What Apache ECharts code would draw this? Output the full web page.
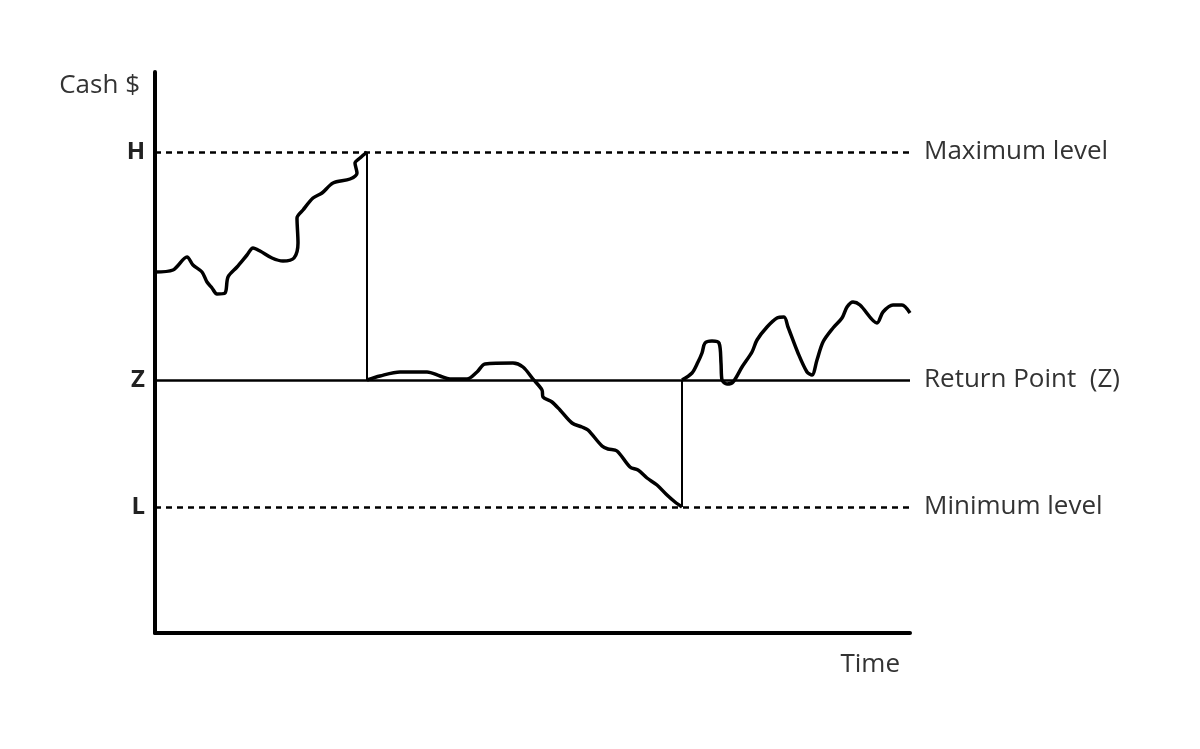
<!DOCTYPE html>
<html>
<head>
<meta charset="utf-8">
<script src="https://cdn.jsdelivr.net/npm/echarts@6/dist/echarts.min.js"></script>
<style>
  html, body { margin: 0; padding: 0; background: #fff; }
  #chart { width: 1200px; height: 749px; }
</style>
</head>
<body>
<div id="chart"></div>
<script>
// time runs 0..755, cash 0..561 (arbitrary units)
const levelValues = [126, 253, 481];
const levelTicks = ['L', 'Z', 'H'];
const levelNames = ['Minimum level', 'Return Point  (Z)', 'Maximum level'];

// cash rising until it hits H
const rise = [
  [0, 361], [18, 363], [32, 376], [38, 368], [47, 361], [52, 351], [57, 345],
  [62, 339], [70, 340], [73, 356], [82, 366], [92, 378], [98, 385], [105, 382],
  [117, 375], [128, 372], [139, 375], [143, 390], [142, 415], [148, 423],
  [158, 435], [167, 440], [178, 450], [195, 454], [202, 460], [200, 470],
  [205, 475], [212, 481]
];
// after the drop back to Z, cash drifts then falls to L
const fall = [
  [212, 253], [225, 257], [245, 261], [272, 261], [285, 257], [295, 254],
  [312, 254], [322, 261], [330, 269], [358, 270], [368, 266], [378, 254],
  [387, 243], [388, 236], [397, 231], [405, 223], [417, 210], [427, 206],
  [433, 203], [447, 187], [453, 184], [462, 182], [475, 166], [483, 163],
  [492, 155], [502, 148], [512, 138], [520, 131], [527, 126]
];
// after the top-up back to Z
const recover = [
  [527, 253], [537, 260], [543, 271], [547, 280], [550, 290], [557, 292],
  [564, 290], [566, 270], [567, 253], [572, 249], [578, 251], [587, 266],
  [597, 281], [602, 293], [612, 306], [622, 315], [629, 316], [633, 306],
  [643, 280], [652, 261], [657, 258], [662, 273], [668, 291], [678, 305],
  [687, 315], [692, 326], [698, 331], [705, 328], [722, 310], [728, 321],
  [738, 328], [747, 328], [755, 320]
];
// the jumps when the firm buys / sells securities
const sellDrop = [[212, 481], [212, 253]];
const buyJump = [[527, 126], [527, 253]];

const chart = echarts.init(document.getElementById('chart'));
const font = 'Open Sans';
const curve = (data) => ({
  type: 'line',
  data,
  smooth: 0.3,
  symbol: 'none',
  lineStyle: { color: '#000', width: 3.5 },
  silent: true,
});
const jump = (data) => ({
  type: 'line',
  data,
  symbol: 'none',
  lineStyle: { color: '#000', width: 2 },
  silent: true,
});

const option = {
  animation: false,
  backgroundColor: '#fff',
  grid: { left: 155, right: 290, top: 72, bottom: 116 },
  xAxis: {
    type: 'value',
    min: 0,
    max: 755,
    name: 'Time',
    nameLocation: 'end',
    nameGap: -10,
    nameTextStyle: {
      fontFamily: font, fontSize: 26, color: '#333',
      align: 'right', verticalAlign: 'top', padding: [19, 0, 0, 0],
    },
    axisLine: { lineStyle: { color: '#000', width: 4 } },
    axisTick: { show: false },
    axisLabel: { show: false },
    splitLine: { show: false },
  },
  yAxis: {
    type: 'value',
    min: 0,
    max: 561,
    name: 'Cash $',
    nameLocation: 'end',
    nameGap: -14,
    nameTextStyle: {
      fontFamily: font, fontSize: 26, color: '#333',
      align: 'right', verticalAlign: 'middle', padding: [0, 15, 0, 0],
    },
    axisLine: { show: true, lineStyle: { color: '#000', width: 4 } },
    axisTick: { show: false },
    axisLabel: {
      customValues: levelValues,
      formatter: (v) => levelTicks[levelValues.indexOf(v)] || '',
      fontFamily: font, fontSize: 24, fontWeight: 'bold', color: '#222',
      margin: 10,
    },
    splitLine: { show: false },
  },
  series: [
    Object.assign(curve(rise), {
      markLine: {
        silent: true,
        symbol: 'none',
        label: {
          position: 'end',
          distance: 14,
          fontFamily: font, fontSize: 26, color: '#333',
        },
        data: levelValues.map((v, i) => ({
          yAxis: v,
          label: { formatter: levelNames[i] },
          lineStyle: {
            color: '#000',
            width: i === 1 ? 2.5 : 2.5,
            type: i === 1 ? 'solid' : [6, 5],
          },
        })),
      },
    }),
    curve(fall),
    curve(recover),
    jump(sellDrop),
    jump(buyJump),
  ],
};
chart.setOption(option);
</script>
</body>
</html>
